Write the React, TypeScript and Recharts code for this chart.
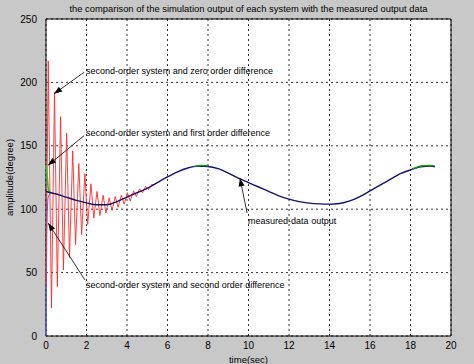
import { LineChart, Line, XAxis, YAxis, CartesianGrid, ReferenceArea, ReferenceLine, ReferenceDot } from "recharts"

const xTicks = [0, 2, 4, 6, 8, 10, 12, 14, 16, 18, 20]
const yTicks = [0, 50, 100, 150, 200, 250]

// measured output (time, degree)
const measuredT = [0, 0.5, 1, 1.5, 2, 2.5, 3, 3.5, 4, 4.5, 5, 5.5, 6, 6.5, 7, 7.5, 8, 8.5, 9, 9.5, 10, 10.5, 11, 11.5, 12, 12.5, 13, 13.5, 14, 14.5, 15, 15.5, 16, 16.5, 17, 17.5, 18, 18.5, 19, 19.2]
const measuredV = [114, 112, 109.5, 107, 105, 103.5, 103.5, 106, 109.5, 113, 116.5, 121, 125.5, 129.5, 132.5, 134, 133.7, 132, 128.5, 124.5, 121, 117.5, 114, 110.5, 108, 106, 104.8, 104.2, 104, 104.5, 106.5, 110, 114.4, 119, 123.5, 128, 131, 133.5, 134, 133.5]

// zero order difference (red, oscillating)
const zeroT = [0, 0.11, 0.27, 0.42, 0.56, 0.72, 0.86, 1.02, 1.16, 1.32, 1.46, 1.62, 1.76, 1.92, 2.06, 2.22, 2.36, 2.52, 2.66, 2.82, 2.96, 3.12, 3.26, 3.42, 3.56, 3.72, 3.86, 4.02, 4.16, 4.32, 4.46, 4.62, 4.76, 4.92, 5.06, 5.22, 5.4]
const zeroV = [40, 217, 22, 192, 39, 173, 52, 160, 62, 146, 72, 136, 80, 128, 88, 120, 93, 114, 95, 111, 97, 109, 99, 110, 101.5, 111, 104, 113, 106.5, 114.5, 110, 116, 113, 118, 115.5, 119.5, 119.5]

// first order difference (green)
const firstT = [0, 0.05, 0.1, 0.15, 0.2, 7.3, 7.3, 7.6, 8.0, 8.0, 18.1, 18.1, 18.6, 19.0, 19.2]
const firstV = [135, 128, 118, 114, 113.5, null, 133.6, 134.6, 134.3, null, null, 131.8, 134.3, 134.6, 134.2]

// second order difference (blue)
const secondT = [0, 0.02, 0.04, 0.06, 0.1, 0.2]
const secondV = [0, 45, 80, 98, 109, 113]

const measured = measuredT.map((t, i) => ({ t, v: measuredV[i] }))
const zero = zeroT.map((t, i) => ({ t, v: zeroV[i] }))
const first = firstT.map((t, i) => ({ t, v: firstV[i] }))
const second = secondT.map((t, i) => ({ t, v: secondV[i] }))

const notes = [
  { text: "second-order system and zero order difference", tx: 1.98, ty: 209.5, from: [1.88, 208], to: [0.4, 191] },
  { text: "second-order system and first order difference", tx: 1.98, ty: 160, from: [1.88, 158], to: [0.1, 134.6] },
  { text: "measured-data output", tx: 9.98, ty: 90.5, from: [9.93, 97], to: [9.58, 124.4] },
  { text: "second-order system and second order difference", tx: 1.98, ty: 40, from: [1.93, 44], to: [0.11, 89] },
]

const font = "'Liberation Sans', Arial, sans-serif"

function Arrow(p: any) {
  const { x1, y1, x2, y2 } = p
  const a = Math.atan2(y2 - y1, x2 - x1)
  const len = 8
  const w = 3
  const bx = x2 - len * Math.cos(a)
  const by = y2 - len * Math.sin(a)
  const px = -Math.sin(a) * w
  const py = Math.cos(a) * w
  return (
    <g>
      <line x1={x1} y1={y1} x2={x2} y2={y2} stroke="#000" strokeWidth={0.8} />
      <polygon points={`${x2},${y2} ${bx + px},${by + py} ${bx - px},${by - py}`} fill="#000" />
    </g>
  )
}

export default function App() {
  return (
    <div style={{ position: "fixed", left: 0, top: 0, width: 474, height: 364, background: "#c8c8c8", fontFamily: font }}>
      <div style={{ position: "absolute", top: 3, left: 46, width: 405, textAlign: "center", fontSize: 9.4, color: "#000" }}>
        the comparison of the simulation output of each system with the measured output data
      </div>
      <LineChart width={474} height={364} data={measured} margin={{ top: 19, right: 23, left: 0, bottom: 0 }}>
        <CartesianGrid fill="#fff" stroke="#000" strokeDasharray="2 3" strokeWidth={0.8} />
        <XAxis
          type="number"
          dataKey="t"
          domain={[0, 20]}
          ticks={xTicks}
          height={28}
          tickLine={false}
          axisLine={false}
          tickMargin={0}
          tick={{ fill: "#000", fontSize: 10, fontFamily: font }}
          label={{ value: "time(sec)", position: "insideBottom", offset: 1, fill: "#000", fontSize: 9.5, fontFamily: font }}
        />
        <YAxis
          type="number"
          domain={[0, 250]}
          ticks={yTicks}
          width={46}
          tickLine={false}
          axisLine={false}
          tickMargin={3}
          tick={{ fill: "#000", fontSize: 10, fontFamily: font }}
          label={(props: any) => {
            const vb = props.viewBox
            const cx = vb.x + 13
            const cy = vb.y + vb.height / 2
            return (
              <text x={cx} y={cy} transform={`rotate(-90 ${cx} ${cy})`} textAnchor="middle" fontSize={9.5} fontFamily={font} fill="#000">
                amplitude(degree)
              </text>
            )
          }}
        />
        <Line data={second} dataKey="v" stroke="#5a5aff" strokeWidth={1} dot={false} isAnimationActive={false} />
        <Line data={zero} dataKey="v" stroke="#ff2a2a" strokeWidth={0.9} dot={false} isAnimationActive={false} />
        <Line data={first.slice(0, 5)} dataKey="v" stroke="#22cc22" strokeWidth={1.6} dot={false} isAnimationActive={false} />
        <Line data={measured} dataKey="v" stroke="#12126e" strokeWidth={1.4} type="monotone" dot={false} isAnimationActive={false} />
        <Line data={first.slice(5)} dataKey="v" stroke="#119911" strokeWidth={1.4} type="monotone" dot={false} connectNulls={false} isAnimationActive={false} />
        <ReferenceArea x1={0} x2={20} y1={0} y2={250} fill="none" stroke="#000" strokeWidth={1} />
        {notes.map((n) => (
          <ReferenceLine
            key={n.text + "a"}
            segment={[{ x: n.from[0], y: n.from[1] }, { x: n.to[0], y: n.to[1] }]}
            shape={Arrow}
          />
        ))}
        {notes.map((n) => (
          <ReferenceDot
            key={n.text}
            x={n.tx}
            y={n.ty}
            r={0}
            shape={(p: any) => (
              <text x={p.cx} y={p.cy} dy="0.35em" fontSize={9} fontFamily={font} fill="#000">
                {n.text}
              </text>
            )}
          />
        ))}
      </LineChart>
    </div>
  )
}
